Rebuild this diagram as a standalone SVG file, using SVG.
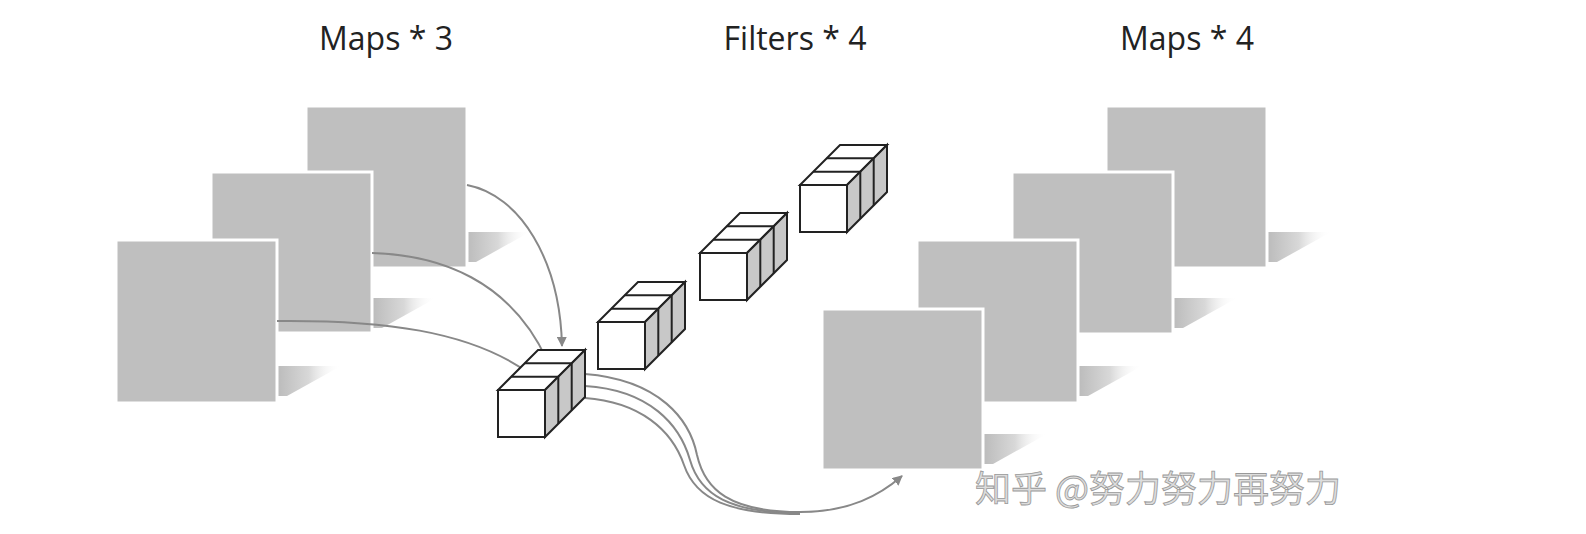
<svg xmlns="http://www.w3.org/2000/svg" width="1586" height="534" viewBox="0 0 1586 534">
<defs>
<linearGradient id="sh" x1="0" y1="0" x2="1" y2="0"><stop offset="0" stop-color="#bbb"/><stop offset="0.5" stop-color="#d8d8d8"/><stop offset="1" stop-color="#fff" stop-opacity="0"/></linearGradient>
<marker id="ah" viewBox="0 0 10 10" refX="9" refY="5" markerWidth="5" markerHeight="5" orient="auto"><path d="M0,0L10,5L0,10z" fill="#888"/></marker>
<g id="cube">
<polygon points="0,0 47,0 87,-40 40,-40" fill="#fff" stroke="#222" stroke-width="2"/>
<polygon points="47,0 87,-40 87,7 47,47" fill="#c8c8c8" stroke="#222" stroke-width="2"/>
<path d="M13.3,-13.3H60.3V33.7M26.7,-26.7H73.7V20.3" fill="none" stroke="#222" stroke-width="2"/>
<rect x="0" y="0" width="47" height="47" fill="#fff" stroke="#222" stroke-width="2"/>
</g>
</defs>
<style>
.map{fill:#bfbfbf;stroke:#fff;stroke-width:3}
.t{font-family:"Open Sans","Liberation Sans",sans-serif;font-size:32px;fill:#222;text-anchor:middle}
.c{fill:none;stroke:#888;stroke-width:2}
</style>
<rect width="1586" height="534" fill="#fff"/>
<text class="t" x="386" y="50">Maps * 3</text>
<text class="t" x="795" y="50">Filters * 4</text>
<text class="t" x="1187" y="50">Maps * 4</text>
<g id="shadows">
<polygon points="466,232 530,232 476,262 466,262" fill="url(#sh)"/>
<polygon points="372,298 436,298 382,328 372,328" fill="url(#sh)"/>
<polygon points="277,366 341,366 287,396 277,396" fill="url(#sh)"/>
<polygon points="1267,232 1331,232 1277,262 1267,262" fill="url(#sh)"/>
<polygon points="1173,298 1237,298 1183,328 1173,328" fill="url(#sh)"/>
<polygon points="1078,366 1142,366 1088,396 1078,396" fill="url(#sh)"/>
<polygon points="983,434 1047,434 993,464 983,464" fill="url(#sh)"/>
</g>
<g id="maps-in">
<rect class="map" x="306" y="106" width="161" height="162"/>
<rect class="map" x="211" y="172" width="161" height="161"/>
<rect class="map" x="116" y="240" width="161" height="163"/>
</g>
<g id="filters">
<use href="#cube" x="598" y="322"/>
<use href="#cube" x="700" y="253"/>
<use href="#cube" x="800" y="185"/>
</g>
<g id="maps-out">
<rect class="map" x="1106" y="106" width="161" height="162"/>
<rect class="map" x="1012" y="172" width="161" height="162"/>
<rect class="map" x="917" y="240" width="161" height="163"/>
<rect class="map" x="822" y="309" width="161" height="161"/>
</g>
<g id="connectors">
<path class="c" d="M467,185C520,195 560,260 562,346" marker-end="url(#ah)"/>
<path class="c" d="M372,253C440,255 510,280 547,360" marker-end="url(#ah)"/>
<path class="c" d="M277,321C380,320 470,330 530,374" marker-end="url(#ah)"/>
<path class="c" d="M585,374C660,380 690,420 697,455C705,490 730,512 800,512C850,512 880,495 902,476" marker-end="url(#ah)"/>
<path class="c" d="M585,386C650,390 680,425 690,460C700,495 730,513 800,513"/>
<path class="c" d="M585,398C640,402 672,430 684,465C696,500 730,514 800,514"/>
</g>
<g id="cube-in"><use href="#cube" x="498" y="390"/></g>
<text x="975" y="502" font-family="Noto Sans CJK SC,sans-serif" font-size="36" fill="#ddd" stroke="#999" stroke-width="0.8">知乎 @努力努力再努力</text>
</svg>
